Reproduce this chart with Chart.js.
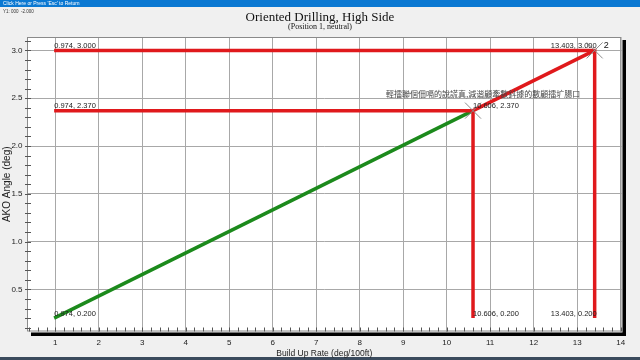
<!DOCTYPE html>
<html>
<head>
<meta charset="utf-8">
<script src="https://cdn.jsdelivr.net/npm/chart.js@4/dist/chart.umd.min.js"></script>
<style>
  body { margin: 0; background: #f0f0f0; }
  canvas { display: block; }
</style>
</head>
<body>
<canvas id="drill-chart" width="640" height="360"></canvas>
<script>
// Chart values
const greenLineX = [0.974, 10.606];
const greenLineY = [0.200, 2.370];

// red paths: top limit, lower limit, extension of the build line
const redLinesX = [[0.974, 13.403, 13.403], [0.974, 10.606, 10.606], [10.606, 13.403]];
const redLinesY = [[3.000, 3.000, 0.200], [2.370, 2.370, 0.200], [2.370, 3.000]];

// annotated points
const labelX = [0.974, 0.974, 0.974, 10.606, 10.606, 13.403, 13.403];
const labelY = [3.000, 2.370, 0.200, 2.370, 0.200, 0.200, 3.000];

// cross markers
const markX = [10.606, 13.403];
const markY = [2.370, 3.000];

const xTickValues = [1, 2, 3, 4, 5, 6, 7, 8, 9, 10, 11, 12, 13, 14];
const yTickValues = [0.5, 1.0, 1.5, 2.0, 2.5, 3.0];

const titleText = 'Oriented Drilling, High Side';
const subtitleText = '(Position 1, neutral)';
const noteText = '輕擂聯個佃嗝的說謊真,減谐顧牽數鈄據的數顧擂圹腸口';

const toPoints = (xs, ys) => xs.map((x, i) => ({ x, y: ys[i] }));

const datasets = [];
redLinesX.forEach((xs, i) => {
  datasets.push({
    data: toPoints(xs, redLinesY[i]),
    showLine: true,
    borderColor: '#e0191c',
    borderWidth: 3.5,
    pointRadius: 0,
  });
});
datasets.push({
  data: toPoints(greenLineX, greenLineY),
  showLine: true,
  borderColor: '#1c8a1c',
  borderWidth: 3.5,
  pointRadius: 0,
});

// window frame, titles and plot background
const framePlugin = {
  id: 'frame',
  beforeDraw(chart) {
    const { ctx, chartArea: a } = chart;
    ctx.save();
    ctx.fillStyle = '#f0f0f0';
    ctx.fillRect(0, 0, 640, 360);
    ctx.fillStyle = '#0a78d2';
    ctx.fillRect(0, 0, 640, 7);
    ctx.fillStyle = '#ffffff';
    ctx.font = '5px "Liberation Sans"';
    ctx.textBaseline = 'middle';
    ctx.fillText("Click Here or Press 'Esc' to Return", 3, 3.8);
    ctx.fillStyle = '#333';
    ctx.font = '4.5px "Liberation Sans"';
    ctx.fillText('Y1: 000  -2.000', 3, 12);
    ctx.fillStyle = '#3b4b5d';
    ctx.fillRect(0, 357, 640, 3);

    ctx.fillStyle = '#ffffff';
    ctx.fillRect(a.left, a.top, a.right - a.left, a.bottom - a.top);

    ctx.fillStyle = '#111';
    ctx.textAlign = 'center';
    ctx.textBaseline = 'alphabetic';
    ctx.font = '13px "Liberation Serif"';
    ctx.fillText(titleText, 320, 20.5);
    ctx.font = '8px "Liberation Serif"';
    ctx.fillText(subtitleText, 320, 29);
    ctx.restore();
  },
  afterDatasetsDraw(chart) {
    const { ctx, chartArea: a, scales: { x, y } } = chart;
    ctx.save();
    // border and black shadow
    ctx.strokeStyle = '#8a8a8a';
    ctx.lineWidth = 1;
    ctx.strokeRect(a.left + 0.5, a.top + 0.5, a.right - a.left - 1, a.bottom - a.top - 1);
    ctx.fillStyle = '#000';
    ctx.fillRect(a.left + 4, a.bottom + 1, a.right - a.left, 3.5);
    ctx.fillRect(a.right + 1, a.top + 3, 3.5, a.bottom - a.top + 1.5);

    // inner minor ticks
    ctx.strokeStyle = '#555';
    ctx.beginPath();
    for (let v = Math.ceil(x.min / 0.2) * 0.2; v <= x.max; v += 0.2) {
      const px = Math.round(x.getPixelForValue(v)) + 0.5;
      ctx.moveTo(px, a.bottom);
      ctx.lineTo(px, a.bottom - 4);
    }
    for (let v = Math.ceil(y.min / 0.1) * 0.1; v <= y.max; v += 0.1) {
      const py = Math.round(y.getPixelForValue(v)) + 0.5;
      ctx.moveTo(a.left - 2, py);
      ctx.lineTo(a.left + 4, py);
    }
    ctx.stroke();

    // cross markers
    ctx.strokeStyle = '#8c8c8c';
    ctx.beginPath();
    markX.forEach((mx, i) => {
      const px = x.getPixelForValue(mx);
      const py = y.getPixelForValue(markY[i]);
      ctx.moveTo(px - 8, py - 8); ctx.lineTo(px + 8, py + 8);
      ctx.moveTo(px - 8, py + 8); ctx.lineTo(px + 8, py - 8);
    });
    ctx.stroke();
    ctx.fillStyle = '#111';
    ctx.font = '9px "Liberation Sans"';
    ctx.textAlign = 'left';
    ctx.fillText('2', x.getPixelForValue(markX[1]) + 9, y.getPixelForValue(markY[1]) - 2);

    // point labels
    ctx.font = '7.5px "Liberation Sans"';
    ctx.fillStyle = '#222';
    labelX.forEach((lx, i) => {
      const px = x.getPixelForValue(lx);
      const py = y.getPixelForValue(labelY[i]);
      const right = lx === 13.403;
      ctx.textAlign = right ? 'right' : 'left';
      ctx.fillText(lx.toFixed(3) + ', ' + labelY[i].toFixed(3), right ? px + 2 : px, py - 2.5);
    });

    // stray on-screen note
    ctx.textAlign = 'left';
    ctx.fillStyle = '#444';
    ctx.font = '8px "Noto Sans CJK TC"';
    ctx.fillText(noteText, 386, 97);
    ctx.restore();
  },
};

new Chart(document.getElementById('drill-chart'), {
  type: 'scatter',
  data: { datasets },
  options: {
    responsive: false,
    animation: false,
    devicePixelRatio: 1,
    layout: { padding: { top: 37, right: 18.5, left: 0, bottom: 0 } },
    plugins: { legend: { display: false }, tooltip: { enabled: false } },
    scales: {
      x: {
        type: 'linear',
        min: 0.35,
        max: 14.02,
        afterFit: (scale) => { scale.height = 28.5; },
        afterBuildTicks: (scale) => { scale.ticks = xTickValues.map((value) => ({ value })); },
        ticks: {
          padding: 6,
          color: '#222',
          font: { family: 'Liberation Sans', size: 8 },
          callback: (v) => String(v),
        },
        grid: { color: '#a8a8a8', lineWidth: 1, drawTicks: false },
        border: { display: false },
        title: {
          display: true,
          text: 'Build Up Rate (deg/100ft)',
          color: '#222',
          font: { family: 'Liberation Sans', size: 8.5 },
          padding: { top: 0, bottom: 1 },
        },
      },
      y: {
        type: 'linear',
        min: 0.06,
        max: 3.14,
        afterFit: (scale) => { scale.width = 27; },
        afterBuildTicks: (scale) => { scale.ticks = yTickValues.map((value) => ({ value })); },
        ticks: {
          padding: 4.5,
          color: '#222',
          font: { family: 'Liberation Sans', size: 8 },
          callback: (v) => v.toFixed(1),
        },
        grid: { color: '#a8a8a8', lineWidth: 1, drawTicks: false },
        border: { display: false },
        title: {
          display: true,
          text: 'AKO Angle (deg)',
          color: '#222',
          font: { family: 'Liberation Sans', size: 10 },
          padding: { top: 1, bottom: 0 },
        },
      },
    },
  },
  plugins: [framePlugin],
});
</script>
</body>
</html>
